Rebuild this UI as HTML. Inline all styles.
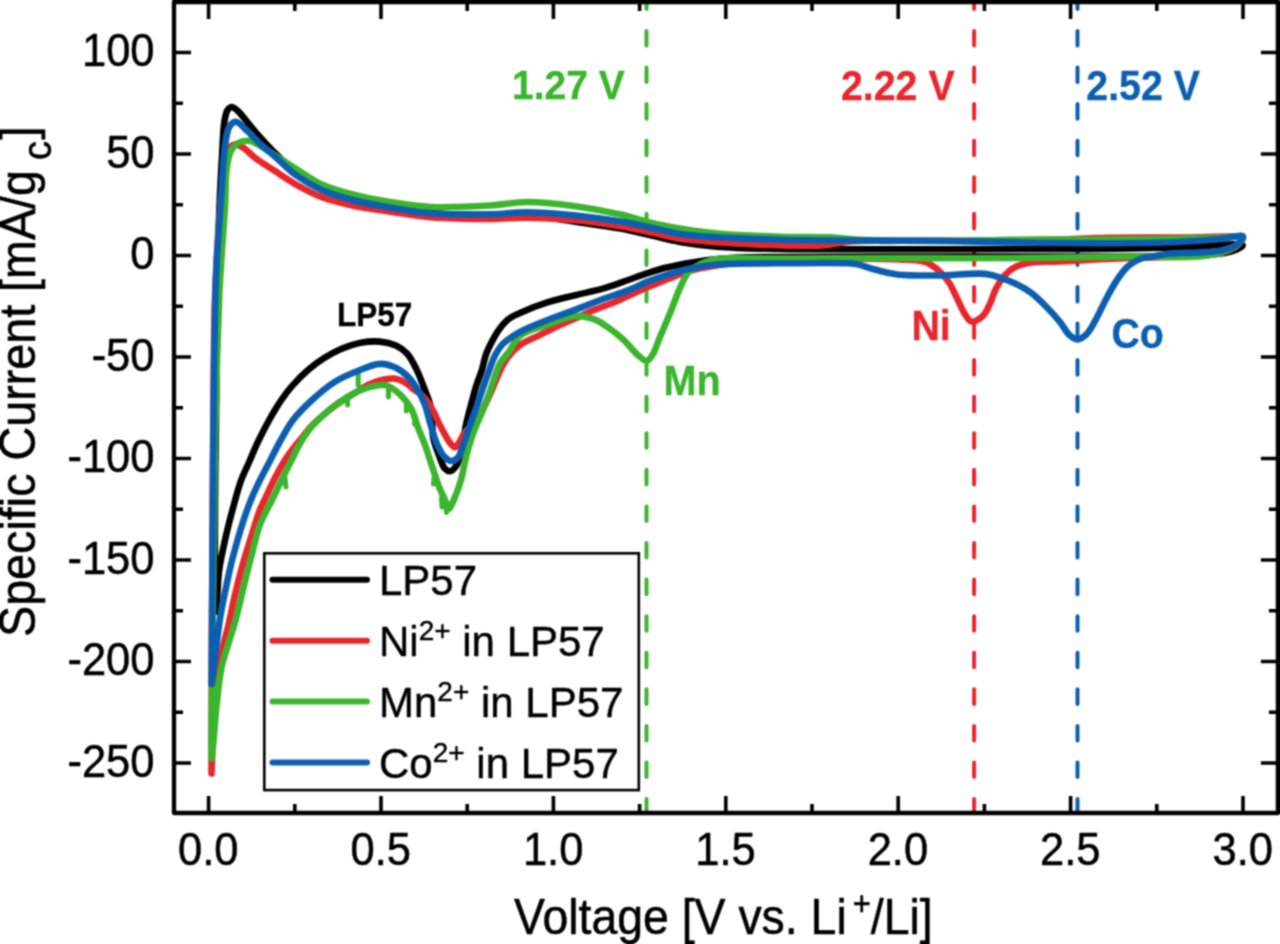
<!DOCTYPE html><html><head><meta charset="utf-8"><title>Cyclic voltammetry</title><style>html,body{margin:0;padding:0;background:#fff;width:1280px;height:944px;overflow:hidden}svg{display:block}</style></head><body><svg width="1280" height="944" viewBox="0 0 1280 944" font-family="'Liberation Sans', Arial, sans-serif"><defs><filter id="soft" x="0" y="0" width="100%" height="100%" filterUnits="userSpaceOnUse" color-interpolation-filters="sRGB"><feConvolveMatrix order="3" kernelMatrix="1 2 1 2 4 2 1 2 1" divisor="16" edgeMode="duplicate"/></filter></defs><rect width="100%" height="100%" fill="#fff"/><g filter="url(#soft)"><rect width="100%" height="100%" fill="#fff"/><path d="M208.6,813.0V796.0 M208.6,2.0V19.0 M294.8,813.0V804.0 M294.8,2.0V11.0 M381.0,813.0V796.0 M381.0,2.0V19.0 M467.2,813.0V804.0 M467.2,2.0V11.0 M553.4,813.0V796.0 M553.4,2.0V19.0 M639.6,813.0V804.0 M639.6,2.0V11.0 M725.8,813.0V796.0 M725.8,2.0V19.0 M812.0,813.0V804.0 M812.0,2.0V11.0 M898.2,813.0V796.0 M898.2,2.0V19.0 M984.4,813.0V804.0 M984.4,2.0V11.0 M1070.6,813.0V796.0 M1070.6,2.0V19.0 M1156.8,813.0V804.0 M1156.8,2.0V11.0 M1243.0,813.0V796.0 M1243.0,2.0V19.0 M174.0,763.0H191.0 M1277.9,763.0H1260.9 M174.0,712.2H183.0 M1277.9,712.2H1268.9 M174.0,661.5H191.0 M1277.9,661.5H1260.9 M174.0,610.8H183.0 M1277.9,610.8H1268.9 M174.0,560.0H191.0 M1277.9,560.0H1260.9 M174.0,509.2H183.0 M1277.9,509.2H1268.9 M174.0,458.5H191.0 M1277.9,458.5H1260.9 M174.0,407.8H183.0 M1277.9,407.8H1268.9 M174.0,357.0H191.0 M1277.9,357.0H1260.9 M174.0,306.2H183.0 M1277.9,306.2H1268.9 M174.0,255.5H191.0 M1277.9,255.5H1260.9 M174.0,204.8H183.0 M1277.9,204.8H1268.9 M174.0,154.0H191.0 M1277.9,154.0H1260.9 M174.0,103.3H183.0 M1277.9,103.3H1268.9 M174.0,52.5H191.0 M1277.9,52.5H1260.9" stroke="#000" stroke-width="3.6" fill="none"/><line x1="646.5" y1="-7.68" x2="646.5" y2="811.0" stroke="#3cb52e" stroke-width="4" stroke-linecap="round" stroke-dasharray="14.58 22" stroke-dashoffset="-2"/><line x1="974.1" y1="-7.68" x2="974.1" y2="811.0" stroke="#e8272d" stroke-width="4" stroke-linecap="round" stroke-dasharray="14.58 22" stroke-dashoffset="-2"/><line x1="1077.5" y1="-7.68" x2="1077.5" y2="811.0" stroke="#0c5fb0" stroke-width="4" stroke-linecap="round" stroke-dasharray="14.58 22" stroke-dashoffset="-2"/><path d="M215.5,612.0 C215.3,594.7 214.9,579.2 214.8,560.0 C214.7,536.2 215.0,504.8 215.2,480.0 C215.4,458.6 215.7,443.4 216.0,420.0 C216.4,386.9 216.9,336.3 217.5,300.0 C218.0,269.8 218.2,242.8 219.1,217.0 C219.9,194.4 221.2,171.1 222.2,153.6 C222.9,141.2 223.1,129.8 224.4,121.8 C225.2,116.9 225.8,112.6 227.5,110.1 C228.6,108.5 230.2,107.0 231.8,107.0 C233.7,107.0 235.9,109.2 238.1,111.2 C241.4,114.1 245.0,119.5 248.7,123.9 C252.7,128.7 257.3,134.1 261.4,138.7 C265.0,142.8 267.7,145.7 272.0,150.0 C278.2,156.2 287.0,165.5 295.3,172.0 C303.4,178.3 311.9,184.0 321.3,188.5 C331.0,193.1 341.5,196.0 352.5,199.0 C364.3,202.2 377.2,204.7 390.0,207.0 C403.2,209.4 415.7,211.7 430.6,213.0 C448.5,214.6 472.5,214.7 490.0,215.0 C503.8,215.2 513.9,214.1 526.9,215.0 C541.6,216.0 558.1,219.3 573.8,221.6 C589.4,223.9 606.6,226.0 620.6,228.6 C632.1,230.7 641.7,233.3 651.9,235.6 C661.5,237.8 670.0,240.1 680.0,241.9 C691.4,243.9 703.0,245.4 716.9,246.6 C735.0,248.1 756.6,248.5 779.4,249.0 C806.8,249.6 835.1,249.2 870.0,249.2 C917.8,249.2 992.3,249.2 1040.0,249.0 C1074.7,248.9 1101.9,248.9 1130.0,248.4 C1154.8,248.0 1183.4,247.4 1200.0,246.5 C1209.2,246.0 1214.7,245.1 1221.4,244.8 C1227.3,244.5 1234.2,244.1 1238.0,244.5 C1240.1,244.7 1242.6,244.8 1242.7,245.5 C1242.9,246.3 1239.0,248.4 1236.6,249.5 C1233.7,250.8 1230.2,251.7 1226.5,252.5 C1222.0,253.5 1216.8,253.9 1211.3,254.5 C1204.8,255.2 1199.6,255.6 1190.0,256.0 C1170.4,256.7 1135.9,256.4 1100.0,256.5 C1046.5,256.6 958.3,256.4 900.0,256.5 C854.7,256.6 808.6,256.8 779.4,257.0 C762.7,257.1 750.9,257.0 740.0,257.5 C732.2,257.8 727.1,258.2 720.0,258.9 C711.8,259.7 702.6,260.8 693.7,262.2 C684.5,263.7 674.0,265.7 665.6,267.8 C658.7,269.5 653.1,271.4 646.9,273.4 C640.6,275.4 634.7,277.7 628.1,280.0 C620.7,282.6 612.7,285.8 604.4,288.2 C595.5,290.8 585.6,292.7 576.2,295.0 C566.8,297.3 557.4,299.2 548.1,302.2 C538.6,305.2 527.5,309.5 520.0,313.0 C514.8,315.5 510.7,317.2 507.1,320.2 C503.7,323.0 501.2,326.6 498.7,330.0 C496.3,333.4 494.4,336.8 492.4,340.6 C490.2,344.8 487.7,349.6 486.0,354.4 C484.2,359.4 483.4,365.1 481.8,370.3 C480.2,375.4 478.2,379.8 476.5,385.1 C474.6,391.0 472.9,397.7 471.2,404.2 C469.4,411.0 467.5,417.9 465.9,425.3 C464.2,433.4 463.2,443.5 461.3,450.8 C459.8,456.6 458.6,462.5 456.2,466.0 C454.5,468.5 452.0,471.0 449.9,471.2 C448.2,471.4 446.3,470.2 444.8,468.6 C442.6,466.3 441.4,461.5 439.7,457.2 C437.6,451.7 434.8,445.3 433.4,438.1 C431.6,429.3 432.8,416.8 431.0,408.0 C429.5,400.8 426.9,395.3 424.5,389.0 C422.1,382.5 419.5,375.5 416.5,369.4 C413.7,363.7 410.8,357.6 407.0,353.5 C403.8,350.0 400.1,347.6 395.9,345.6 C391.2,343.5 385.5,342.1 380.0,341.6 C374.2,341.0 368.2,341.4 362.0,342.5 C355.0,343.8 346.6,346.7 340.0,349.5 C334.2,352.0 329.4,354.7 324.2,358.0 C318.8,361.4 313.4,365.3 308.3,369.7 C302.8,374.4 297.0,380.4 292.4,385.6 C288.3,390.2 285.2,394.4 281.8,399.3 C278.1,404.6 274.8,410.1 271.2,416.3 C267.1,423.5 262.5,432.3 258.8,440.0 C255.3,447.2 252.5,454.3 249.5,461.2 C246.6,467.8 243.5,473.9 241.0,480.7 C238.4,487.9 236.3,496.2 234.2,503.6 C232.2,510.6 230.4,517.7 228.8,524.0 C227.4,529.5 226.5,533.4 225.2,539.3 C223.4,547.5 220.7,559.0 219.3,568.9 C217.9,578.7 217.8,590.6 217.0,598.5 C216.5,603.9 216.0,607.5 215.5,612.0" fill="none" stroke="#000000" stroke-width="6.6" stroke-linejoin="round" stroke-linecap="round"/><path d="M211.5,773.5 C211.5,762.3 211.5,752.6 211.5,740.0 C211.5,723.7 211.7,703.3 211.8,684.0 C211.9,663.4 211.9,641.0 212.0,620.0 C212.1,599.7 212.3,584.2 212.5,560.0 C212.8,523.1 212.9,464.9 213.3,420.0 C213.7,378.5 213.9,334.6 215.0,300.0 C215.8,273.5 217.0,251.4 218.5,230.0 C219.8,211.9 221.0,194.5 223.0,180.0 C224.6,168.7 225.6,155.7 228.6,150.0 C230.1,147.2 231.7,145.3 233.9,144.7 C236.3,144.1 239.5,145.6 242.4,147.2 C246.4,149.4 250.3,154.2 255.1,157.8 C260.7,162.0 267.5,166.1 274.2,170.5 C281.6,175.3 289.6,180.9 297.5,185.3 C305.3,189.6 312.7,193.6 321.3,196.9 C330.8,200.5 341.6,203.1 352.5,205.5 C364.4,208.1 377.2,209.8 390.0,211.7 C403.3,213.7 415.7,216.0 430.6,217.2 C448.5,218.7 472.5,219.0 490.0,219.0 C503.8,219.0 513.9,217.6 526.9,217.7 C541.6,217.8 558.2,218.6 573.8,220.0 C589.4,221.4 606.6,223.9 620.6,226.2 C632.1,228.2 641.8,230.4 651.9,232.5 C661.5,234.5 669.9,237.2 680.0,238.8 C691.4,240.5 703.0,241.2 716.9,242.2 C735.0,243.5 760.2,244.8 779.4,245.3 C795.8,245.7 812.1,246.2 825.0,245.2 C834.6,244.5 840.2,242.3 850.0,241.5 C863.8,240.4 880.5,241.0 900.0,240.8 C927.6,240.6 970.9,240.8 1000.0,240.5 C1022.5,240.3 1042.0,240.0 1060.0,239.5 C1074.7,239.1 1084.4,238.3 1100.0,238.0 C1122.1,237.5 1156.5,237.8 1180.0,237.5 C1198.6,237.3 1218.7,236.4 1230.0,236.5 C1235.7,236.6 1242.1,235.2 1243.0,237.0 C1243.8,238.5 1240.4,242.7 1238.0,245.0 C1235.1,247.7 1230.7,249.8 1226.0,251.5 C1220.1,253.6 1212.9,254.6 1205.0,255.5 C1194.9,256.7 1182.1,256.6 1170.0,257.0 C1157.1,257.4 1142.4,257.6 1130.0,258.0 C1119.3,258.4 1110.7,258.8 1100.0,259.3 C1087.6,259.9 1072.2,260.9 1060.0,261.5 C1049.8,262.0 1039.9,261.4 1031.9,262.5 C1025.9,263.4 1020.8,264.3 1016.2,266.5 C1012.0,268.5 1008.6,271.3 1005.3,274.7 C1001.7,278.5 998.5,283.8 995.9,288.8 C993.3,293.7 992.0,299.7 989.7,304.4 C987.7,308.4 986.3,312.5 983.4,315.3 C980.4,318.2 974.9,322.2 971.7,321.6 C968.8,321.1 966.9,317.0 964.7,313.8 C961.9,309.6 959.5,303.2 956.9,298.0 C954.3,292.8 952.2,287.2 949.0,282.5 C945.9,277.9 942.0,273.4 938.0,270.0 C934.2,266.8 930.7,264.0 925.6,262.2 C918.8,259.8 910.9,260.1 900.0,259.5 C880.7,258.4 844.7,258.7 820.0,259.0 C798.6,259.3 778.0,259.8 760.0,261.0 C745.3,262.0 731.9,263.3 720.0,265.0 C710.3,266.4 700.6,268.0 693.7,269.7 C689.1,270.9 686.6,271.9 682.5,273.4 C677.4,275.2 671.4,277.7 665.6,280.0 C659.5,282.4 653.1,284.9 646.9,287.5 C640.6,290.2 633.9,293.3 628.1,295.9 C623.0,298.2 618.9,300.4 613.7,302.5 C607.9,304.9 601.2,306.9 595.0,309.5 C588.7,312.1 582.5,315.2 576.2,318.0 C570.0,320.8 563.7,323.3 557.5,326.2 C551.2,329.2 545.0,332.5 538.7,335.6 C532.5,338.7 525.1,341.3 520.0,345.0 C515.7,348.1 512.2,351.8 509.3,355.4 C506.7,358.5 505.0,361.4 503.0,365.0 C500.7,369.1 498.7,374.0 496.6,378.7 C494.4,383.5 492.5,388.8 490.3,393.6 C488.2,398.3 486.1,402.8 483.9,407.3 C481.8,411.6 480.4,416.1 477.5,420.0 C474.3,424.4 468.1,427.9 465.0,432.0 C462.5,435.3 461.4,439.3 459.5,442.0 C458.0,444.1 456.6,447.1 455.0,447.2 C453.6,447.3 451.9,445.1 450.5,443.5 C448.8,441.6 447.4,438.8 445.8,436.1 C443.9,432.8 441.7,428.9 439.8,425.1 C437.8,421.1 436.0,416.4 433.9,412.4 C432.0,408.8 430.3,405.3 428.0,402.2 C425.7,399.0 422.7,395.7 420.0,393.5 C417.9,391.7 415.7,391.1 413.6,389.5 C411.3,387.8 409.6,385.3 406.8,383.6 C403.4,381.5 398.7,379.2 394.4,378.6 C390.0,378.0 385.2,379.2 380.8,380.3 C376.4,381.4 372.0,383.1 368.0,385.0 C364.2,386.8 361.3,389.0 357.2,391.5 C351.7,394.9 343.6,399.8 338.2,403.5 C334.1,406.3 331.5,408.3 327.6,411.5 C322.6,415.6 315.8,421.4 311.0,426.5 C306.8,431.0 303.4,435.8 300.0,440.0 C297.1,443.6 294.6,446.5 292.0,450.0 C289.3,453.6 286.8,457.0 284.2,461.2 C281.1,466.2 277.9,472.2 274.9,478.1 C271.7,484.3 268.3,491.9 265.6,497.6 C263.5,502.1 262.0,504.6 260.0,509.6 C257.0,517.2 253.5,529.4 250.4,539.3 C247.3,549.2 244.2,559.0 241.5,568.9 C238.8,578.7 236.3,588.9 234.1,598.5 C232.0,607.6 230.4,616.8 228.5,625.0 C226.9,632.2 225.0,638.2 223.5,645.0 C221.9,652.1 220.4,658.6 219.1,667.0 C217.5,677.9 216.4,692.3 215.3,705.0 C214.3,717.7 213.4,731.0 212.8,743.0 C212.2,753.7 211.9,763.3 211.5,773.5" fill="none" stroke="#e8272d" stroke-width="6.6" stroke-linejoin="round" stroke-linecap="round"/><path d="M211.5,758.3 C211.6,738.9 211.6,721.0 211.8,700.0 C212.0,675.4 212.5,646.7 212.8,620.0 C213.1,593.3 213.5,568.2 213.8,540.0 C214.2,508.5 214.4,472.5 215.0,440.0 C215.6,409.2 216.5,377.0 217.3,350.0 C218.0,328.0 218.7,307.2 219.5,290.0 C220.1,277.1 220.8,268.6 221.6,256.0 C222.6,240.1 224.4,217.6 225.2,202.0 C225.8,190.1 225.3,179.6 226.5,170.5 C227.4,163.3 228.2,156.2 230.7,151.4 C232.6,147.7 235.1,144.8 238.1,143.0 C241.1,141.3 245.4,140.5 248.7,140.8 C251.7,141.0 254.0,142.4 257.2,144.0 C262.0,146.4 268.1,150.9 274.2,154.8 C281.4,159.4 289.7,164.9 297.5,169.8 C305.4,174.7 312.6,180.3 321.3,184.3 C330.8,188.7 341.5,191.6 352.5,194.5 C364.3,197.6 377.2,199.9 390.0,202.0 C403.2,204.1 415.8,206.3 430.6,207.0 C448.5,207.9 472.6,206.5 490.0,205.5 C503.8,204.7 513.9,202.1 526.9,202.0 C541.6,201.9 558.2,203.9 573.8,206.0 C589.4,208.1 606.6,211.3 620.6,214.5 C632.1,217.1 641.7,220.6 651.9,223.0 C661.5,225.3 670.0,226.9 680.0,228.6 C691.4,230.5 703.0,232.3 716.9,233.6 C735.0,235.3 759.7,236.2 779.4,236.8 C797.2,237.3 815.3,236.6 830.0,237.3 C841.3,237.8 847.1,239.2 860.0,239.8 C883.6,240.9 934.2,240.9 960.0,240.8 C976.3,240.7 986.7,240.2 1000.0,240.0 C1013.3,239.8 1024.0,239.6 1040.0,239.5 C1064.0,239.3 1099.9,239.6 1130.0,239.3 C1160.4,239.0 1202.5,238.2 1221.4,237.5 C1229.9,237.2 1236.5,236.3 1240.0,236.5 C1241.4,236.6 1242.8,236.4 1243.0,237.0 C1243.5,238.2 1239.2,243.5 1236.0,246.0 C1232.2,248.9 1226.5,250.8 1221.0,252.5 C1214.9,254.4 1209.8,255.5 1201.0,256.3 C1184.6,257.9 1155.1,256.3 1130.0,256.5 C1101.8,256.7 1069.1,257.5 1040.0,257.8 C1012.5,258.1 984.8,258.2 960.0,258.2 C938.6,258.2 923.5,258.0 900.0,258.0 C866.7,258.0 812.6,258.5 779.4,258.6 C756.1,258.7 731.9,257.3 720.0,258.6 C714.8,259.2 712.4,260.0 709.0,261.0 C705.8,262.0 703.1,262.9 700.0,264.5 C696.4,266.3 692.0,268.4 689.0,271.6 C685.7,275.1 683.9,279.6 681.3,285.0 C677.7,292.4 674.1,303.2 670.4,312.2 C666.8,321.1 662.6,330.8 659.4,338.5 C656.8,344.6 655.1,351.0 652.5,355.0 C650.7,357.7 649.0,360.6 646.8,360.9 C644.4,361.2 641.6,358.2 638.6,355.7 C634.0,352.0 628.3,344.2 623.1,339.4 C618.4,335.1 613.8,331.4 609.0,328.1 C604.4,324.9 600.2,321.7 595.0,319.7 C589.4,317.5 581.4,315.9 576.2,315.9 C572.6,315.9 570.5,316.8 566.9,317.8 C561.7,319.2 555.0,321.8 548.1,324.4 C539.6,327.6 526.7,330.3 520.0,335.6 C514.7,339.8 512.8,346.3 509.3,351.2 C506.1,355.7 502.3,359.4 499.8,363.9 C497.4,368.2 496.2,372.9 494.5,377.7 C492.7,382.8 491.2,388.1 489.2,393.6 C487.0,399.7 484.3,406.4 481.8,412.6 C479.4,418.5 476.6,424.3 474.4,430.0 C472.3,435.4 470.5,440.8 469.0,446.0 C467.6,450.8 466.6,455.0 465.4,460.0 C464.0,465.8 462.9,472.9 461.3,478.8 C459.8,484.2 458.3,489.0 456.2,494.0 C454.1,499.1 450.5,509.1 448.6,509.0 C447.2,508.9 446.6,503.9 445.3,500.7 C443.5,496.4 440.6,490.9 438.5,485.4 C436.1,479.2 434.0,471.9 431.7,465.1 C429.4,458.3 427.3,451.1 424.9,444.7 C422.7,438.8 420.3,433.6 418.1,427.8 C415.8,421.8 414.4,414.7 411.4,409.2 C408.6,404.1 405.3,399.5 401.2,395.6 C396.9,391.5 391.7,386.7 385.9,385.4 C379.5,384.0 370.6,386.7 363.9,388.8 C357.7,390.8 352.5,394.0 347.0,397.3 C341.2,400.8 335.6,404.6 330.0,409.2 C323.8,414.2 316.6,420.9 311.7,426.5 C307.7,431.1 305.2,434.9 302.0,440.0 C298.2,446.2 294.4,454.5 291.0,461.2 C288.0,467.1 285.4,472.1 282.5,478.1 C279.2,484.8 276.0,491.9 272.4,499.3 C268.5,507.3 263.4,515.5 260.0,524.4 C256.5,533.7 254.5,544.1 251.9,554.0 C249.3,563.9 247.0,573.3 244.4,583.7 C241.6,595.2 238.6,609.1 235.6,620.0 C233.1,629.1 230.4,636.9 228.0,645.0 C225.8,652.6 223.4,658.6 221.6,667.0 C219.3,677.9 218.0,692.3 216.6,705.0 C215.2,717.7 214.3,733.2 213.3,743.0 C212.7,749.2 212.1,753.2 211.5,758.3" fill="none" stroke="#3cb52e" stroke-width="6.6" stroke-linejoin="round" stroke-linecap="round"/><path d="M358.2,385.0L358.2,373.5 M347.6,396.0L347.6,405.0 M388.5,388.0L388.5,397.0 M406.3,404.0L406.3,411.0 M284.5,474.0L286.0,487.0 M441.5,498.0L442.0,507.0 M445.5,503.0L446.5,512.5 M434.0,478.0L433.5,484.0 M415.0,418.0L414.5,424.0" stroke="#3cb52e" stroke-width="5" stroke-linecap="round" fill="none"/><path d="M211.5,684.0 C211.7,662.7 211.8,641.0 212.0,620.0 C212.2,599.7 212.3,584.2 212.5,560.0 C212.8,523.1 212.9,466.7 213.5,420.0 C214.1,373.3 214.3,320.7 215.9,280.0 C217.2,248.4 219.4,220.8 221.2,196.0 C222.6,176.3 223.3,155.7 225.4,143.0 C226.6,135.7 227.2,129.5 229.7,126.0 C231.3,123.7 233.7,121.7 236.0,121.8 C239.1,121.9 242.9,127.0 246.6,130.3 C251.2,134.4 256.4,140.4 261.4,145.0 C266.3,149.5 271.1,153.2 276.3,157.8 C282.3,163.0 288.2,169.5 295.3,174.7 C303.0,180.3 312.0,185.6 321.3,189.8 C331.0,194.1 341.5,197.1 352.5,200.0 C364.3,203.1 377.2,205.3 390.0,207.5 C403.2,209.8 415.7,212.1 430.6,213.3 C448.5,214.7 472.6,214.6 490.0,214.3 C503.8,214.0 513.9,212.1 526.9,212.2 C541.6,212.3 558.2,213.7 573.8,215.3 C589.4,216.9 606.6,219.3 620.6,221.6 C632.1,223.5 641.8,225.7 651.9,227.8 C661.5,229.8 669.9,232.5 680.0,234.0 C691.4,235.7 703.0,236.3 716.9,237.2 C735.0,238.3 756.6,239.1 779.4,239.7 C806.8,240.4 841.7,240.4 870.0,240.6 C894.8,240.8 914.6,240.7 940.0,241.0 C970.4,241.4 1010.9,242.4 1040.0,242.8 C1062.5,243.1 1083.4,243.3 1100.0,243.3 C1111.7,243.3 1118.7,243.2 1130.0,243.0 C1144.7,242.8 1164.8,242.6 1180.8,241.8 C1195.1,241.1 1211.3,240.0 1221.4,238.8 C1227.5,238.1 1232.1,237.0 1236.0,236.5 C1238.7,236.2 1242.1,235.1 1242.7,236.0 C1243.4,237.0 1241.3,240.5 1239.7,242.3 C1237.8,244.4 1234.6,246.1 1231.6,247.4 C1228.5,248.8 1225.4,249.7 1221.4,250.5 C1215.8,251.6 1208.6,252.0 1201.1,252.5 C1192.0,253.1 1179.4,252.6 1170.6,253.5 C1163.8,254.2 1157.9,255.5 1152.5,256.5 C1148.0,257.3 1144.0,257.6 1140.2,259.0 C1136.5,260.4 1132.8,262.6 1130.0,264.7 C1127.7,266.4 1126.4,267.7 1124.4,270.0 C1121.5,273.3 1118.0,278.4 1115.0,283.1 C1111.7,288.3 1108.7,294.2 1105.6,300.0 C1102.4,306.1 1099.5,312.9 1096.2,318.8 C1093.3,324.1 1090.5,330.2 1086.9,333.8 C1084.1,336.5 1080.5,339.3 1077.5,339.4 C1074.9,339.5 1072.4,337.7 1070.0,335.6 C1066.5,332.7 1063.6,326.5 1060.0,322.0 C1056.2,317.3 1052.0,312.6 1047.5,308.0 C1042.7,303.1 1037.3,297.5 1031.9,293.4 C1026.9,289.6 1021.6,286.6 1016.2,284.0 C1011.1,281.5 1005.9,279.5 1000.6,277.8 C995.5,276.1 991.7,274.6 985.0,273.9 C973.6,272.7 952.9,275.4 938.0,275.5 C924.4,275.6 908.1,275.6 899.0,274.7 C894.0,274.2 891.6,273.6 887.5,272.7 C882.7,271.7 877.1,270.2 871.9,268.8 C866.6,267.3 860.1,264.8 856.0,264.0 C853.5,263.5 852.9,263.5 849.7,263.3 C838.9,262.7 802.1,263.1 779.4,263.3 C758.0,263.5 732.6,263.2 716.9,264.5 C707.3,265.3 701.8,266.2 693.7,267.8 C684.7,269.6 674.0,272.7 665.6,275.3 C658.7,277.4 653.1,279.4 646.9,281.9 C640.6,284.4 634.8,287.7 628.1,290.3 C620.7,293.2 612.6,295.5 604.4,298.5 C595.4,301.8 585.6,305.9 576.2,309.4 C566.8,312.9 557.4,316.0 548.1,319.7 C538.7,323.5 528.0,327.4 520.0,331.9 C513.4,335.6 507.4,339.3 503.0,343.8 C499.2,347.7 496.8,352.0 494.5,356.5 C492.2,360.9 490.9,365.6 489.2,370.3 C487.4,375.1 485.7,379.8 483.9,385.1 C481.8,391.1 479.8,397.5 477.5,404.2 C474.9,411.6 471.6,420.3 469.1,427.5 C467.0,433.7 465.3,439.4 463.3,444.7 C461.6,449.3 460.5,454.8 458.0,457.5 C456.1,459.5 453.4,461.1 451.2,461.0 C449.0,460.9 446.8,459.2 444.8,457.2 C442.0,454.4 439.4,449.3 437.2,444.5 C434.6,438.9 432.8,431.9 430.8,425.4 C428.7,418.7 427.1,410.8 425.0,405.0 C423.3,400.5 422.0,397.4 419.7,393.3 C416.8,388.3 412.8,381.8 408.6,377.4 C404.8,373.4 400.6,370.0 395.9,367.8 C391.1,365.5 385.6,363.7 380.0,363.9 C373.4,364.1 366.1,367.7 358.9,370.5 C351.1,373.5 342.7,376.9 335.0,381.7 C326.7,386.8 318.4,394.1 311.2,400.7 C304.5,406.9 298.2,413.2 293.0,420.0 C288.1,426.4 284.7,433.2 280.8,440.0 C276.9,446.9 273.4,454.3 269.8,461.2 C266.4,467.8 262.8,474.2 259.7,480.7 C256.7,486.9 253.8,492.9 251.2,499.3 C248.5,506.0 246.2,511.9 243.6,520.0 C240.0,531.1 234.9,549.3 232.1,560.0 C230.3,567.2 229.5,570.9 228.0,578.0 C225.8,588.3 222.5,603.3 220.4,616.0 C218.3,628.7 216.9,642.3 215.3,654.2 C213.9,664.7 212.8,674.1 211.5,684.0" fill="none" stroke="#0c5fb0" stroke-width="6.6" stroke-linejoin="round" stroke-linecap="round"/><rect x="174.0" y="2.0" width="1103.9" height="811.0" fill="none" stroke="#000" stroke-linejoin="round" stroke-width="4.3"/><g font-size="43.5" fill="#000" stroke="#000" stroke-width="0.5"><text transform="translate(208.3,865.3) scale(1,1.070)" text-anchor="middle">0.0</text><text transform="translate(380.7,865.3) scale(1,1.070)" text-anchor="middle">0.5</text><text transform="translate(553.1,865.3) scale(1,1.070)" text-anchor="middle">1.0</text><text transform="translate(725.5,865.3) scale(1,1.070)" text-anchor="middle">1.5</text><text transform="translate(897.9,865.3) scale(1,1.070)" text-anchor="middle">2.0</text><text transform="translate(1070.3,865.3) scale(1,1.070)" text-anchor="middle">2.5</text><text transform="translate(1242.7,865.3) scale(1,1.070)" text-anchor="middle">3.0</text><text transform="translate(154.5,66.1) scale(1,1.070)" text-anchor="end">100</text><text transform="translate(154.5,167.6) scale(1,1.070)" text-anchor="end">50</text><text transform="translate(154.5,269.1) scale(1,1.070)" text-anchor="end">0</text><text transform="translate(154.5,370.6) scale(1,1.070)" text-anchor="end">-50</text><text transform="translate(154.5,472.1) scale(1,1.070)" text-anchor="end">-100</text><text transform="translate(154.5,573.6) scale(1,1.070)" text-anchor="end">-150</text><text transform="translate(154.5,675.1) scale(1,1.070)" text-anchor="end">-200</text><text transform="translate(154.5,776.6) scale(1,1.070)" text-anchor="end">-250</text></g><text transform="translate(514,933.5) scale(1,1.07)" font-size="46.4" stroke="#000" stroke-width="0.5">Voltage [V vs. Li<tspan dx="6" dy="-17" font-size="31">+</tspan><tspan dy="17">/Li]</tspan></text><text transform="translate(35,637) rotate(-90) scale(1,1.08)" font-size="46.7" stroke="#000" stroke-width="0.5">Specific Current [mA/g<tspan dx="10" dy="15" font-size="38">c</tspan><tspan dx="1.5" dy="-15">]</tspan></text><rect x="264.3" y="553.3" width="374.5" height="236.8" fill="#fff" stroke="#000" stroke-width="2.6"/><line x1="272.5" y1="579.7" x2="367" y2="579.7" stroke="#000000" stroke-width="6" stroke-linecap="round"/><text x="379" y="594.7" font-size="42" stroke="#000" stroke-width="0.4">LP57</text><line x1="272.5" y1="640.7" x2="367" y2="640.7" stroke="#e8272d" stroke-width="6" stroke-linecap="round"/><text x="379" y="655.7" font-size="42" stroke="#000" stroke-width="0.4">Ni<tspan dy="-16" font-size="28">2+</tspan><tspan dy="16"> in LP57</tspan></text><line x1="272.5" y1="701.6" x2="367" y2="701.6" stroke="#3cb52e" stroke-width="6" stroke-linecap="round"/><text x="379" y="716.6" font-size="42" stroke="#000" stroke-width="0.4">Mn<tspan dy="-16" font-size="28">2+</tspan><tspan dy="16"> in LP57</tspan></text><line x1="272.5" y1="762.6" x2="367" y2="762.6" stroke="#0c5fb0" stroke-width="6" stroke-linecap="round"/><text x="379" y="777.6" font-size="42" stroke="#000" stroke-width="0.4">Co<tspan dy="-16" font-size="28">2+</tspan><tspan dy="16"> in LP57</tspan></text><g font-weight="bold"><text transform="translate(512.0,99.2) scale(1,1.06)" font-size="39.0" fill="#3cb52e" stroke="#3cb52e" stroke-width="0.3">1.27 V</text><text transform="translate(841.0,100.0) scale(1,1.06)" font-size="39.3" fill="#e8272d" stroke="#e8272d" stroke-width="0.3">2.22 V</text><text transform="translate(1086.3,100.0) scale(1,1.06)" font-size="39.3" fill="#0c5fb0" stroke="#0c5fb0" stroke-width="0.3">2.52 V</text><text transform="translate(663.5,395.1) scale(1,1.06)" font-size="39.6" fill="#3cb52e" stroke="#3cb52e" stroke-width="0.3">Mn</text><text transform="translate(911.5,340.3) scale(1,1.06)" font-size="39.3" fill="#e8272d" stroke="#e8272d" stroke-width="0.3">Ni</text><text transform="translate(1111.5,347.8) scale(1,1.06)" font-size="39.3" fill="#0c5fb0" stroke="#0c5fb0" stroke-width="0.3">Co</text><text transform="translate(337.0,325.7) scale(1,1.06)" font-size="31.5" fill="#000" stroke="#000" stroke-width="0.3">LP57</text></g></g></svg></body></html>
